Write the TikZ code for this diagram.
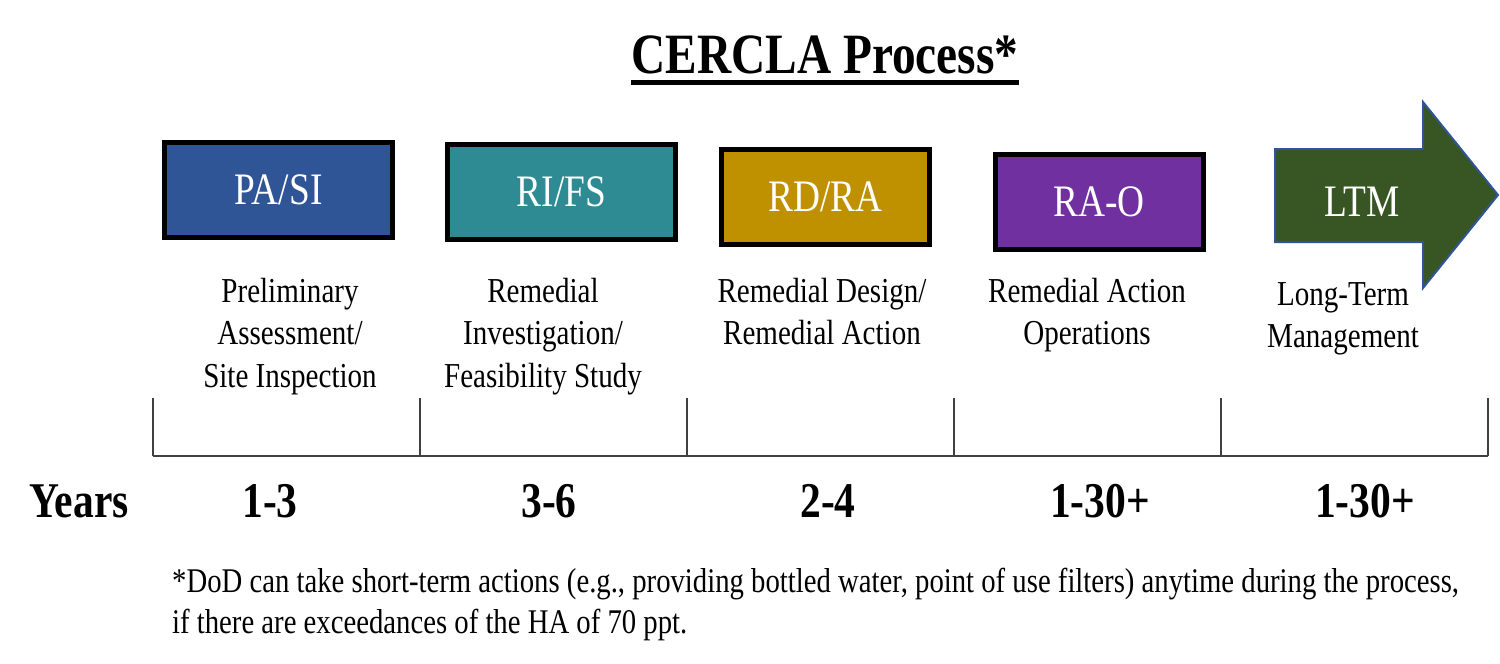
\documentclass[tikz,border=0pt]{standalone}
\usepackage{fontspec}
\setmainfont[FakeStretch=0.83]{Liberation Serif}
\usetikzlibrary{positioning}
\definecolor{pasiblue}{RGB}{47,85,151}
\definecolor{rifsteal}{RGB}{46,139,148}
\definecolor{rdragold}{RGB}{191,144,0}
\definecolor{raopurple}{RGB}{112,48,160}
\definecolor{ltmgreen}{RGB}{55,86,35}
\definecolor{tickgray}{RGB}{64,64,64}
\begin{document}
\begin{tikzpicture}[x=1pt, y=-1pt, phase box/.style={rectangle,draw=black,line width=5pt,inner sep=0pt,minimum height=95pt,text=white,font=\fontsize{45}{50}\selectfont}, desc/.style={align=center,inner sep=0pt,anchor=base,font=\fontsize{35}{42.5}\selectfont}, years/.style={inner sep=0pt,anchor=base,font=\bfseries\fontsize{50}{55}\selectfont}]
\useasboundingbox (0,0) rectangle (1500,664);
\node[inner sep=0pt, anchor=base, font=\bfseries\fontsize{57}{60}\selectfont] (title) at (825,73) {CERCLA Process*};
\draw[line width=5pt] ([yshift=-9pt]title.base west) -- ([yshift=-9pt]title.base east);
\begin{scope}
\node[phase box, fill=pasiblue, minimum width=228pt] (pasi) at (278.5,190) {PA/SI};
\node[phase box, fill=rifsteal, minimum width=228pt] (rifs) at (561.5,192) {RI/FS};
\node[phase box, fill=rdragold, minimum width=208pt] (rdra) at (825.5,197) {RD/RA};
\node[phase box, fill=raopurple, minimum width=208pt] (rao) at (1099,202) {RA-O};
\end{scope}
%LTM arrow
\draw[draw=pasiblue, line width=2pt, fill=ltmgreen] (1275,149) -- (1423,149) -- (1423,102) -- (1498,195) -- (1423,288) -- (1423,242) -- (1275,242) -- cycle;
\node[inner sep=0pt, text=white, font=\fontsize{45}{50}\selectfont] (ltm) at (1362,202) {LTM};
\begin{scope}
\node[desc] (pasitext) at (290,387) {Preliminary\\Assessment/\\Site Inspection};
\node[desc] (rifstext) at (543,387) {Remedial\\Investigation/\\Feasibility Study};
\node[desc] (rdratext) at (822,344.5) {Remedial Design/\\Remedial Action};
\node[desc] (raotext) at (1087,344.5) {Remedial Action\\Operations};
\node[desc] (ltmtext) at (1343,347.5) {Long-Term\\Management};
\end{scope}
%timeline
\coordinate (t0) at (153,456);
\coordinate (t1) at (420,456);
\coordinate (t2) at (687,456);
\coordinate (t3) at (954,456);
\coordinate (t4) at (1221,456);
\coordinate (t5) at (1488,456);
\begin{scope}[tickgray, line width=2pt]
\draw (t0) -- (t5);
\draw (t0) -- ++(0,-58);
\draw (t1) -- ++(0,-58);
\draw (t2) -- ++(0,-58);
\draw (t3) -- ++(0,-58);
\draw (t4) -- ++(0,-58);
\draw (t5) -- ++(0,-58);
\end{scope}
\begin{scope}
\node[years] (yrs) at (79,517) {Years};
\node[years] (y1) at (270,517) {1-3};
\node[years] (y2) at (549,517) {3-6};
\node[years] (y3) at (828,517) {2-4};
\node[years] (y4) at (1100,517) {1-30+};
\node[years] (y5) at (1365,517) {1-30+};
\end{scope}
\node[inner sep=0pt, anchor=base west, align=left, font=\fontsize{34.6}{41}\selectfont] (note) at (172,633) {*DoD can take short-term actions (e.g., providing bottled water, point of use filters) anytime during the process,\\if there are exceedances of the HA of 70 ppt.};
\end{tikzpicture}
\end{document}
